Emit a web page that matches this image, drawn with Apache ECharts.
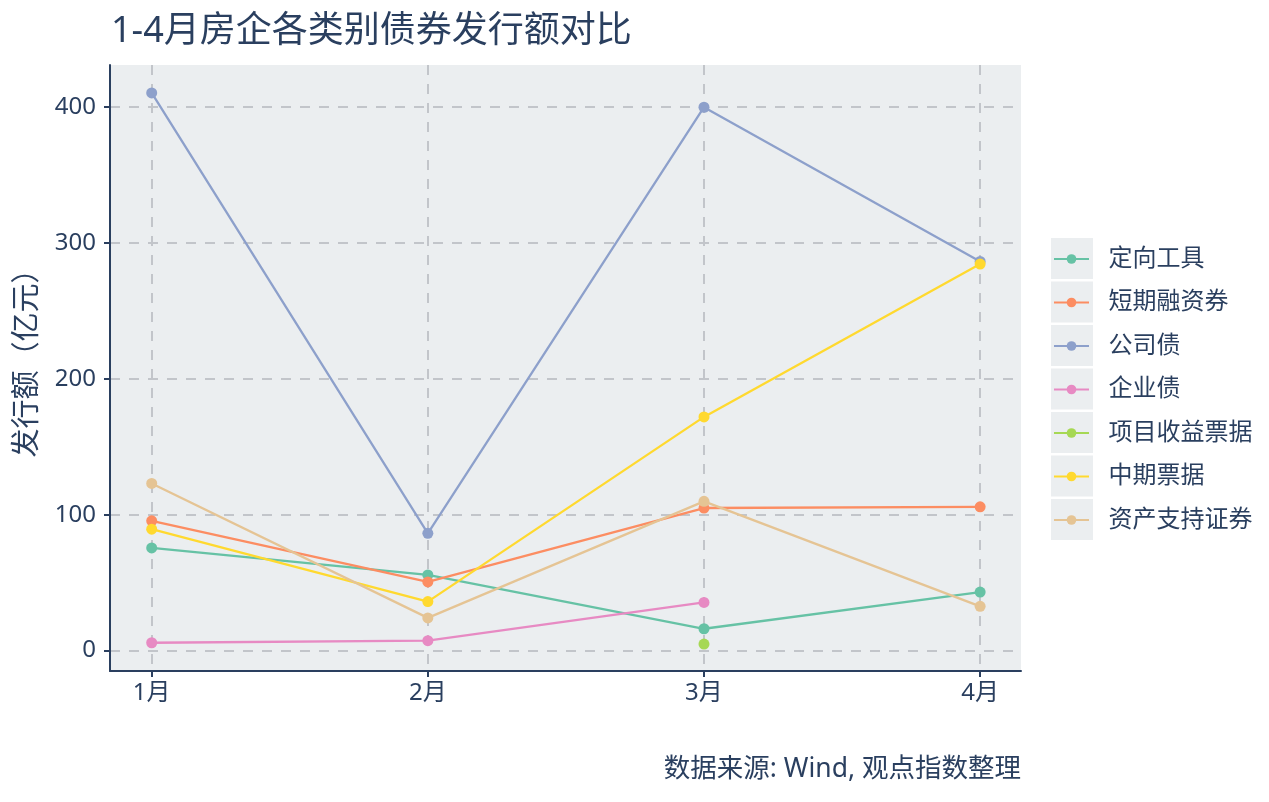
<!DOCTYPE html>
<html>
<head>
<meta charset="utf-8">
<script src="https://cdn.jsdelivr.net/npm/echarts@6/dist/echarts.min.js"></script>
<style>
html,body{margin:0;padding:0;background:#fff;}
#c{width:1269px;height:802px;}
</style>
</head>
<body>
<div id="c"></div>
<script>
const categories = ['1月', '2月', '3月', '4月'];
const yTicks = [0, 100, 200, 300, 400];
const seriesNames = ['定向工具', '短期融资券', '公司债', '企业债', '项目收益票据', '中期票据', '资产支持证券'];
const dingxiang = [75.5, 55.6, 16, 43];
const duanqi = [95.5, 50.5, 104.9, 105.8];
const gongsi = [410.5, 86.3, 400, 286.5];
const qiye = [5.7, 7.2, 35.4, null];
const xiangmu = [null, null, 4.7, null];
const zhongqi = [89.3, 36, 172, 284.5];
const zichan = [123, 24, 109.8, 32.5];
const colors = ['#66c2a5', '#fc8d62', '#8da0cb', '#e78ac3', '#a6d854', '#ffd92f', '#e5c494'];

const allValues = [dingxiang, duanqi, gongsi, qiye, xiangmu, zhongqi, zichan];
const textColor = '#2a3f5f';
const FONT = '"Noto Sans", "Noto Sans CJK SC", sans-serif';

function toPairs(arr) {
  const out = [];
  arr.forEach((v, i) => { if (v !== null) out.push([i, v]); });
  return out;
}

const series = seriesNames.map((name, k) => ({
  name: name,
  type: 'line',
  data: toPairs(allValues[k]),
  symbol: 'circle',
  symbolSize: 11,
  lineStyle: { width: 2.3, color: colors[k] },
  itemStyle: { color: colors[k] },
  emphasis: { disabled: true },
  z: 3
}));

const legendBoxes = seriesNames.map((n, i) => ({
  type: 'rect',
  shape: { x: 1051, y: 238 + i * 43.5, width: 42, height: 41 },
  style: { fill: '#ebeef0' },
  z: -1
}));

const chart = echarts.init(document.getElementById('c'), null, { renderer: 'canvas' });
chart.setOption({
  animation: false,
  color: colors,
  textStyle: { fontFamily: FONT, color: textColor },
  title: {
    text: '1-4月房企各类别债券发行额对比',
    left: 106, top: 9,
    textStyle: { fontFamily: FONT, fontSize: 36, fontWeight: 'normal', color: textColor }
  },
  grid: { left: 110, top: 65, right: 248, bottom: 131, show: true, backgroundColor: '#ebeef0', borderWidth: 0 },
  legend: {
    orient: 'vertical',
    left: 1053, top: 246,
    padding: 0,
    itemWidth: 35, itemHeight: 12,
    itemGap: 17.5,
    textStyle: { fontFamily: FONT, fontSize: 24, lineHeight: 26, color: textColor, padding: [0, 0, 0, 14.5] },
    data: seriesNames
  },
  xAxis: {
    type: 'value',
    min: -0.151, max: 3.148,
    axisLine: { show: true, onZero: false, lineStyle: { color: textColor, width: 2 } },
    axisTick: { show: true, length: 6, lineStyle: { color: textColor, width: 2 }, customValues: categories.map((c, i) => i) },
    axisLabel: { customValues: categories.map((c, i) => i), formatter: v => categories[Math.round(v)], fontSize: 24, color: textColor, margin: 10, fontFamily: FONT },
    splitLine: { show: true, lineStyle: { color: '#c2c5ca', width: 2, type: [10, 9] } }
  },
  yAxis: {
    type: 'value',
    min: -15.1, max: 431.1,
    name: '发行额（亿元）',
    nameLocation: 'middle',
    nameGap: 68,
    nameTextStyle: { fontFamily: FONT, fontSize: 29, color: textColor, padding: [0, 0, 0, 24] },
    axisLine: { show: true, onZero: false, lineStyle: { color: textColor, width: 2 } },
    axisTick: { show: true, length: 6, lineStyle: { color: textColor, width: 2 }, customValues: yTicks },
    axisLabel: { customValues: yTicks, fontSize: 24, color: textColor, margin: 14, fontFamily: FONT },
    splitLine: { show: true, lineStyle: { color: '#c2c5ca', width: 2, type: [10, 9] } }
  },
  graphic: legendBoxes.concat([{
    type: 'text',
    right: 248, top: 756,
    style: { text: '数据来源: Wind, 观点指数整理', font: '26.5px ' + FONT, fill: textColor, textAlign: 'right' }
  }]),
  series: series
});
</script>
</body>
</html>
